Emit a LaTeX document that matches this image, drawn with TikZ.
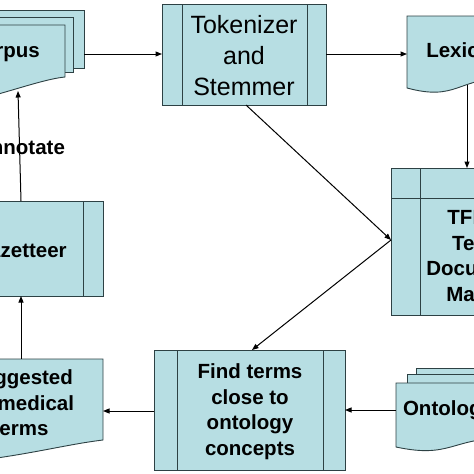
\documentclass[tikz,border=0pt]{standalone}
\usepackage{fontspec}
\setmainfont{Liberation Sans}
\usetikzlibrary{arrows.meta}
\definecolor{boxfill}{RGB}{183,222,227}
\definecolor{boxline}{RGB}{45,65,68}
\begin{document}
\begin{tikzpicture}[x=1pt,y=-1pt,
  shp/.style={fill=boxfill,draw=boxline,line width=0.9pt},
  inner/.style={draw=boxline,line width=0.9pt},
  bl/.style={font=\fontsize{20.5}{25.5}\selectfont\bfseries,align=center,inner sep=0pt},
  rg/.style={font=\fontsize{25}{31}\selectfont,align=center,inner sep=0pt},
  arr/.style={-{Triangle[length=6.5pt,width=5pt]},line width=1pt,black}]
\clip (0,0) rectangle (474,474);
% Corpus (multi-document)
\draw[shp] (-100,10) rectangle (84,68);
\draw[shp] (-100,17) rectangle (73,72);
\draw[shp] (-100,25) -- (65,25) -- (65,77) .. controls (45,79) and (15,90) .. (-20,99) -- (-100,99) -- cycle;
\node[bl] (corpus) at (4,52) {Corpus};
\coordinate (corpusR) at (84,54);
\coordinate (corpusB) at (18,91);
% Tokenizer
\draw[shp] (162,4) rectangle (326,105);
\draw[inner] (182,4) -- (182,105) (307,4) -- (307,105);
\node[rg] (tok) at (244,56) {Tokenizer\\and\\Stemmer};
\coordinate (tokL) at (162,54);
\coordinate (tokR) at (326,54);
\coordinate (tokB) at (246,105);
% Lexicon
\draw[shp] (407,16) -- (507,16) -- (507,78) .. controls (457,78) and (457,101.5) .. (407,88) -- cycle;
\node[bl] (lex) at (465,50) {Lexicon};
\coordinate (lexL) at (407,54);
\coordinate (lexB) at (467,85);
% TFIDF
\draw[shp] (391,168) rectangle (540,315);
\draw[inner] (420,168) -- (420,315) (391,198) -- (540,198);
\node[bl] (tf) at (476.5,256) {TFIDF\\Term\\Document\\Matrix};
\coordinate (tfT) at (467,168);
\coordinate (tfL) at (391,240);
% Find terms
\draw[shp] (154,350) rectangle (345,470);
\draw[inner] (177,350) -- (177,470) (323,350) -- (323,470);
\node[bl] (find) at (250,411.5) {Find terms\\close to\\ontology\\concepts};
\coordinate (findT) at (252,350);
\coordinate (findR) at (345,410);
\coordinate (findL) at (154,411);
% Ontology (multi-document)
\draw[shp] (416,368) rectangle (560,425);
\draw[shp] (407,374) rectangle (560,430);
\draw[shp] (396,383) -- (506,383) -- (506,438) .. controls (451,438) and (451,458.8) .. (396,447) -- cycle;
\node[bl] (ont) at (448,410) {Ontology};
\coordinate (ontL) at (396,410);
% Suggested biomedical terms
\draw[shp] (-100,359) -- (103,359) -- (103,440) .. controls (70,444) and (40,452) .. (-10,459) -- (-100,459) -- cycle;
\node[bl] (sug) at (20.5,403) {Suggested\\biomedical\\terms};
\coordinate (sugR) at (103,411);
\coordinate (sugT) at (21,359);
% Gazetteer
\draw[shp] (-60,201) rectangle (103,296);
\draw[inner] (83,201) -- (83,296);
\node[bl] (gaz) at (20,250) {Gazetteer};
\coordinate (gazT) at (21,201);
\coordinate (gazB) at (21,296);
% label
\node[bl] (annot) at (20.5,148) {Annotate};
% connectors
\draw[arr] (corpusR) -- (tokL);
\draw[arr] (tokR) -- (lexL);
\draw[arr] (lexB) -- (tfT);
\draw[arr] (tokB) -- (tfL);
\draw[arr] (tfL) -- (findT);
\draw[arr] (ontL) -- (findR);
\draw[arr] (findL) -- (sugR);
\draw[arr] (sugT) -- (gazB);
\draw[arr] (gazT) -- (corpusB);
\end{tikzpicture}
\end{document}
